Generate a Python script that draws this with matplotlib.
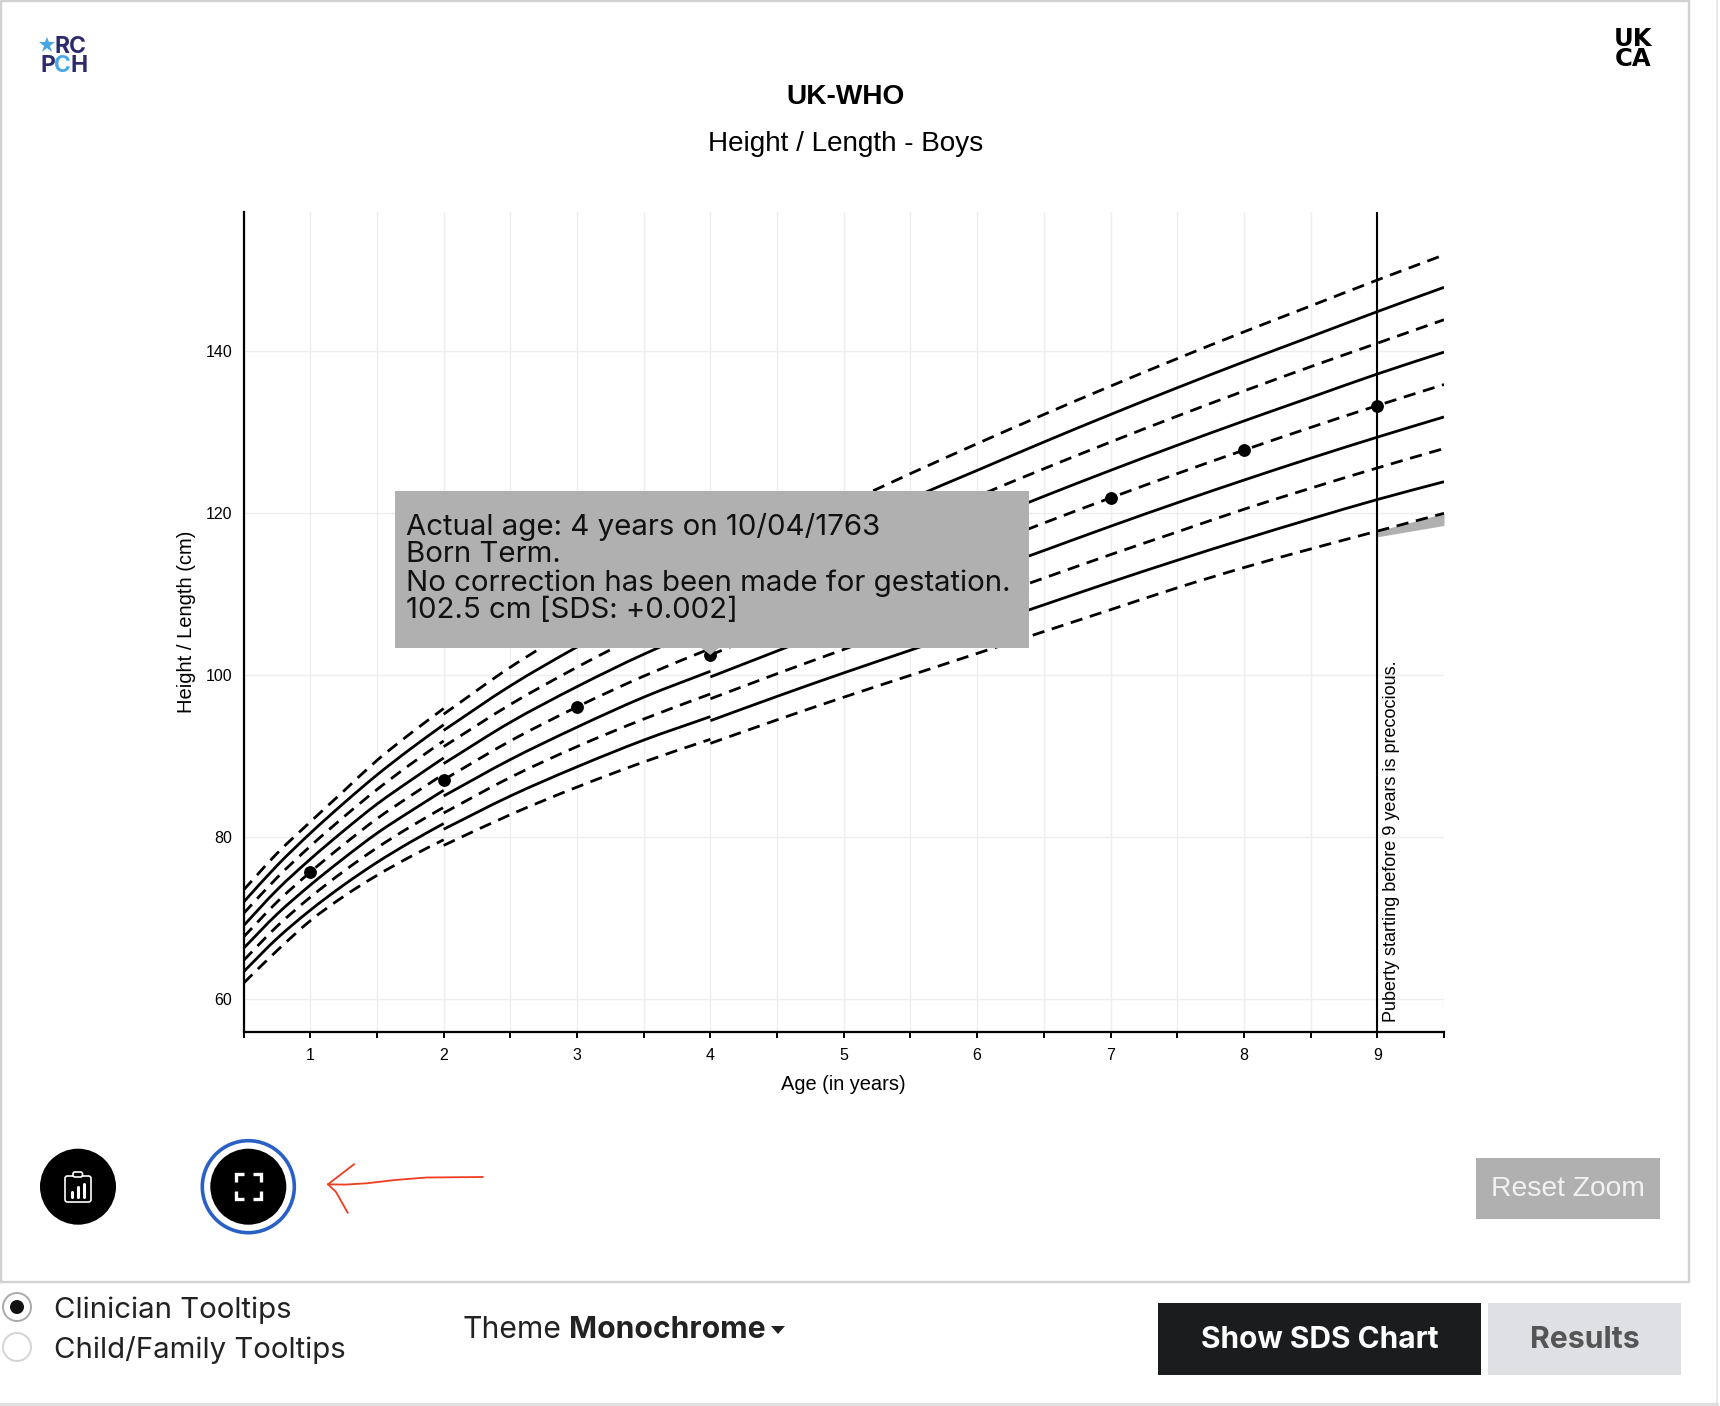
#!/usr/bin/env python3
# -*- coding: utf-8 -*-

import matplotlib
matplotlib.use("Agg")
import matplotlib.pyplot as plt
from matplotlib.patches import Circle, FancyBboxPatch, PathPatch, Polygon, Rectangle
from matplotlib.path import Path

W, H = 1720, 1406

# age knots, repeated at 2 and 4 where the reference data changes
ages_who_length = [0.5, 0.75, 1, 1.25, 1.5, 1.75, 2]
ages_who_height = [2, 2.5, 3, 3.5, 4]
ages_uk90 = [4, 4.5, 5, 5.5, 6, 6.5, 7, 7.5, 8, 8.5, 9, 9.5]

c004 = [62.0, 66.0, 69.7, 72.7, 75.3, 77.6, 79.7, 79.0, 82.8, 86.2, 89.3, 92.1, 91.6, 94.5, 97.3, 100.0, 102.7, 105.4, 108.1, 110.8, 113.3, 115.6, 117.8, 120.0]
c2 = [63.4, 67.5, 71.0, 74.1, 76.9, 79.4, 81.7, 81.0, 85.1, 88.7, 92.0, 94.9, 94.4, 97.4, 100.3, 103.1, 105.9, 108.7, 111.5, 114.2, 116.8, 119.3, 121.7, 123.9]
c9 = [64.8, 69.0, 72.6, 75.8, 78.7, 81.3, 83.7, 83.0, 87.4, 91.2, 94.6, 97.7, 97.1, 100.2, 103.2, 106.2, 109.1, 112.0, 114.9, 117.7, 120.5, 123.1, 125.6, 128.0]
c25 = [66.3, 70.5, 74.1, 77.4, 80.5, 83.2, 85.8, 85.1, 89.6, 93.6, 97.3, 100.5, 99.8, 103.0, 106.2, 109.3, 112.4, 115.4, 118.4, 121.3, 124.1, 126.8, 129.4, 131.9]
c50 = [67.7, 72.0, 75.7, 79.1, 82.3, 85.1, 87.8, 87.1, 91.9, 96.1, 99.9, 103.3, 102.5, 105.9, 109.2, 112.4, 115.6, 118.8, 121.9, 124.9, 127.8, 130.6, 133.3, 135.9]
c75 = [69.1, 73.5, 77.3, 80.8, 84.1, 87.0, 89.8, 89.1, 94.2, 98.6, 102.6, 106.1, 105.2, 108.8, 112.2, 115.5, 118.8, 122.1, 125.3, 128.4, 131.4, 134.3, 137.2, 139.9]
c91 = [70.6, 75.0, 78.9, 82.5, 85.9, 89.0, 91.9, 91.2, 96.4, 101.0, 105.2, 108.9, 107.9, 111.6, 115.1, 118.6, 122.1, 125.5, 128.8, 132.0, 135.1, 138.1, 141.0, 143.9]
c98 = [72.0, 76.5, 80.5, 84.2, 87.7, 90.9, 93.9, 93.2, 98.7, 103.5, 107.9, 111.7, 110.6, 114.4, 118.1, 121.8, 125.3, 128.8, 132.2, 135.5, 138.7, 141.8, 144.9, 147.9]
c996 = [73.5, 78.0, 81.9, 85.7, 89.5, 92.8, 95.9, 95.2, 101.0, 106.0, 110.5, 114.5, 113.3, 117.3, 121.1, 124.9, 128.6, 132.2, 135.7, 139.1, 142.4, 145.6, 148.8, 151.9]

point_ages = [1, 2, 3, 4, 5, 6, 7, 8, 9]
point_heights = [75.7, 87.1, 96.1, 102.5, 109.2, 115.6, 121.9, 127.8, 133.3]

shade_ages = [9, 9.5]
shade_upper = [117.8, 120.0]
shade_lower = [117.1, 118.5]

year_ticks = [0.5, 1, 1.5, 2, 2.5, 3, 3.5, 4, 4.5, 5, 5.5, 6, 6.5, 7, 7.5, 8, 8.5, 9, 9.5]
year_labels = ["", "1", "", "2", "", "3", "", "4", "", "5", "", "6", "", "7", "", "8", "", "9", ""]
height_ticks = [60, 80, 100, 120, 140]

tooltip_lines = [
    "Actual age: 4 years on 10/04/1763",
    "Born Term.",
    "No correction has been made for gestation.",
    "102.5 cm [SDS: +0.002]",
]

ARIAL = "Liberation Sans"
UI_FONT = "Inter"
GREY = "#b0b0b0"
BORDER = "#d2d2d2"


def smooth_path(xs, ys):
    # bezier through the read values so the curves do not look faceted
    n = len(xs)
    verts = [(xs[0], ys[0])]
    codes = [Path.MOVETO]
    for i in range(n - 1):
        prev_i, next_i = max(i - 1, 0), min(i + 2, n - 1)
        m0 = (ys[i + 1] - ys[prev_i]) / (xs[i + 1] - xs[prev_i])
        m1 = (ys[next_i] - ys[i]) / (xs[next_i] - xs[i])
        h = (xs[i + 1] - xs[i]) / 3
        verts += [(xs[i] + h, ys[i] + m0 * h), (xs[i + 1] - h, ys[i + 1] - m1 * h), (xs[i + 1], ys[i + 1])]
        codes += [Path.CURVE4, Path.CURVE4, Path.CURVE4]
    return Path(verts, codes)


fig = plt.figure(figsize=(W / 100, H / 100), dpi=100, facecolor="white")

# chart axes, placed in pixels of the page
ax_left, ax_right, ax_top, ax_bottom = 243.6, 1444.0, 212.0, 1031.7
ax = fig.add_axes([ax_left / W, 1 - ax_bottom / H, (ax_right - ax_left) / W, (ax_bottom - ax_top) / H])
ax.set_xlim(0.5, 9.5)
ax.set_ylim(56.0, 157.2)
ax.spines["top"].set_visible(False)
ax.spines["right"].set_visible(False)
ax.spines["left"].set_linewidth(1.6)
ax.spines["bottom"].set_linewidth(1.6)
ax.set_xticks(year_ticks)
ax.set_xticklabels(year_labels, family=ARIAL, fontsize=11.5)
ax.set_yticks(height_ticks)
ax.set_yticklabels([str(v) for v in height_ticks], family=ARIAL, fontsize=11.5)
ax.tick_params(axis="x", length=4, width=1.4, pad=7.5)
ax.tick_params(axis="y", length=0, pad=8)
ax.grid(True, color="#eeeeee", linewidth=1.0)
ax.set_axisbelow(True)
ax.set_xlabel("Age (in years)", family=ARIAL, fontsize=14.4, labelpad=9)
ax.set_ylabel("Height / Length (cm)", family=ARIAL, fontsize=14.5, labelpad=7)

ax.fill_between(shade_ages, shade_lower, shade_upper, color=GREY, linewidth=0, zorder=2)

n_a, n_b = len(ages_who_length), len(ages_who_height)
centiles = [(c004, True), (c2, False), (c9, True), (c25, False), (c50, True),
            (c75, False), (c91, True), (c98, False), (c996, True)]
for values, dashed in centiles:
    style = (0, (4.4, 2.8)) if dashed else "-"
    parts = [(ages_who_length, values[:n_a]),
             (ages_who_height, values[n_a:n_a + n_b]),
             (ages_uk90, values[n_a + n_b:])]
    for xs, ys in parts:
        ax.add_patch(PathPatch(smooth_path(xs, ys), facecolor="none", edgecolor="black", linewidth=2.0,
                               linestyle=style, capstyle="butt", zorder=3))

ax.axvline(9, color="black", linewidth=1.5, zorder=4)
ax.plot(point_ages, point_heights, "o", color="black", markersize=8.2, zorder=5, clip_on=False)
ax.text(9.105, 57.2, "Puberty starting before 9 years is precocious.", rotation=90,
        family=ARIAL, fontsize=12.95, ha="center", va="bottom", zorder=5)

# page furniture on a full size overlay in pixel coordinates
ui = fig.add_axes([0, 0, 1, 1], zorder=10)
ui.set_xlim(0, W)
ui.set_ylim(H, 0)
ui.axis("off")

ui.plot([1, 1, 1689, 1689, 1], [1282, 1, 1, 1282, 1282], color=BORDER, linewidth=1.7)
ui.plot([1717, 1717], [0, 1405], color="#e6e6e6", linewidth=1.2)
ui.plot([0, 1717], [1404, 1404], color="#e0e0e0", linewidth=2.2)

ui.text(845.5, 97, "UK-WHO", family=ARIAL, weight="bold", fontsize=20.2, ha="center", va="center")
ui.text(845.5, 144, "Height / Length - Boys", family=ARIAL, fontsize=20.1, ha="center", va="center")

# RCPCH logo
NAVY = "#2b2a6b"
SKY = "#4aa7e6"
ui.text(55, 47, "RC", family=UI_FONT, weight="bold", fontsize=16.5, color=NAVY, ha="left", va="center")
ui.text(40.5, 66, "P", family=UI_FONT, weight="bold", fontsize=16.5, color=NAVY, ha="left", va="center")
ui.text(54, 66, "C", family=UI_FONT, weight="bold", fontsize=16.5, color=SKY, ha="left", va="center")
ui.text(70.5, 66, "H", family=UI_FONT, weight="bold", fontsize=16.5, color=NAVY, ha="left", va="center")
ui.plot([47], [45], marker="*", color=SKY, markersize=12, markeredgewidth=0)

# UKCA mark
ui.text(1633, 39, "UK", family="DejaVu Sans", weight="bold", fontsize=17.5, ha="center", va="center")
ui.text(1633, 59.5, "CA", family="DejaVu Sans", weight="bold", fontsize=17.5, ha="center", va="center")

# tooltip
ui.add_patch(Rectangle((395, 490.5), 634, 157.5, facecolor=GREY, edgecolor="none"))
ui.add_patch(Polygon([(700, 647), (720, 647), (710.3, 655)], facecolor=GREY, edgecolor="none"))
for line, y in zip(tooltip_lines, [527, 555, 583, 611]):
    ui.text(406, y, line, family=UI_FONT, fontsize=21.2, color="#111111", ha="left", va="center")

# round buttons
ui.add_patch(Circle((78, 1186.7), 38, facecolor="black", edgecolor="none"))
ui.add_patch(Circle((248.3, 1186.7), 38, facecolor="black", edgecolor="none"))
ui.add_patch(Circle((248.3, 1186.7), 46, facecolor="none", edgecolor="#2a60c6", linewidth=2.6))

ui.add_patch(FancyBboxPatch((65, 1176), 26, 26, boxstyle="round,pad=0,rounding_size=2.5",
                            facecolor="none", edgecolor="white", linewidth=1.2))
ui.add_patch(FancyBboxPatch((73, 1172), 9.5, 5, boxstyle="round,pad=0,rounding_size=2",
                            facecolor="black", edgecolor="white", linewidth=1.2))
for bx, top in [(71.7, 1192), (78.3, 1187), (84.3, 1184)]:
    ui.plot([bx, bx], [top, 1197], color="white", linewidth=2.2, solid_capstyle="round")

fx0, fx1, fy0, fy1, arm = 235.5, 261.2, 1173.5, 1199, 8
for cx, cy, dx, dy in [(fx0, fy0, 1, 1), (fx1, fy0, -1, 1), (fx0, fy1, 1, -1), (fx1, fy1, -1, -1)]:
    ui.plot([cx + dx * arm, cx, cx], [cy, cy, cy + dy * arm], color="white", linewidth=2.4,
            solid_capstyle="butt", solid_joinstyle="miter")

# hand drawn arrow
RED = "#ee3d20"
ui.plot([482.7, 426.7, 395, 366.7, 345, 328], [1177, 1177.5, 1180, 1183.3, 1184.6, 1184.3],
        color=RED, linewidth=1.3)
ui.plot([354, 328, 336, 347.7], [1164.3, 1184.3, 1192, 1212.7], color=RED, linewidth=1.3)

# flat buttons
ui.add_patch(Rectangle((1476, 1158), 184, 61, facecolor=GREY, edgecolor="none"))
ui.text(1568, 1188.5, "Reset Zoom", family=ARIAL, fontsize=20.3, color="#f2f2f2", ha="center", va="center")
ui.add_patch(Rectangle((1158, 1303), 323, 72, facecolor="#1b1c1e", edgecolor="none"))
ui.text(1319.5, 1340, "Show SDS Chart", family=UI_FONT, weight="bold", fontsize=21.5, color="white", ha="center", va="center")
ui.add_patch(Rectangle((1488, 1303), 193, 72, facecolor="#dee0e3", edgecolor="none"))
ui.text(1584.5, 1340, "Results", family=UI_FONT, weight="bold", fontsize=21.7, color="#555555", ha="center", va="center")

# radio buttons
ui.add_patch(Circle((17, 1307), 14, facecolor="white", edgecolor="#aaaaaa", linewidth=1.4))
ui.add_patch(Circle((17, 1307), 7, facecolor="#111111", edgecolor="none"))
ui.add_patch(Circle((17, 1347), 14, facecolor="white", edgecolor="#d4d4d4", linewidth=1.4))
ui.text(54, 1310, "Clinician Tooltips", family=UI_FONT, fontsize=21.2, color="#222222", ha="left", va="center")
ui.text(54, 1350, "Child/Family Tooltips", family=UI_FONT, fontsize=21.2, color="#222222", ha="left", va="center")

# theme selector
ui.text(463, 1330, "Theme", family=UI_FONT, fontsize=21.7, color="#222222", ha="left", va="center")
ui.text(569, 1330, "Monochrome", family=UI_FONT, weight="bold", fontsize=21.7, color="#222222", ha="left", va="center")
ui.add_patch(Polygon([(771, 1326), (785, 1326), (778, 1334)], facecolor="#222222", edgecolor="none"))

fig.savefig("out.png", dpi=100)
